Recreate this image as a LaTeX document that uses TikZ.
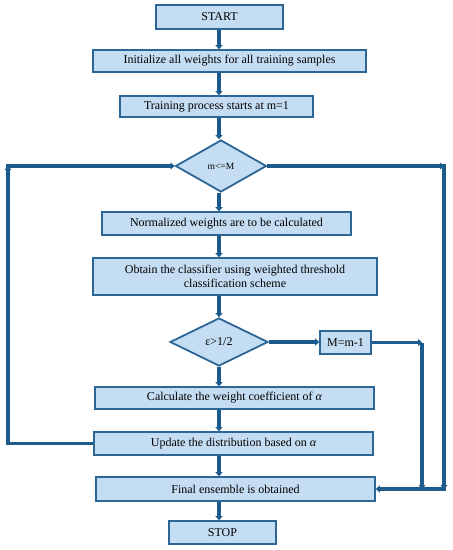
\documentclass[tikz,border=0pt]{standalone}
\usepackage{fontspec}
\setmainfont{Liberation Serif}
\usetikzlibrary{shapes.geometric, positioning, arrows.meta}

\definecolor{boxfill}{RGB}{197,221,242}
\definecolor{boxline}{RGB}{44,102,150}
\definecolor{flowline}{RGB}{28,92,140}

\tikzset{
  box/.style={draw=boxline, fill=boxfill, line width=1.6pt, inner sep=1pt,
    align=center, font=\fontsize{12}{14}\selectfont},
  decision/.style={diamond, draw=boxline, fill=boxfill, line width=1.8pt,
    inner sep=0pt},
  flow/.style={draw=flowline, line width=3.2pt, -{Triangle[width=7pt,length=4pt]}},
  plain/.style={draw=flowline, line width=3.2pt}
}

\begin{document}
\begin{tikzpicture}[x=1pt, y=1pt]
\useasboundingbox (0,0) rectangle (453,-550);

\coordinate (axis) at (219,0);

\node[box, minimum width=127pt, minimum height=24pt] (start) at (219.5,-17) {START};
\node[box, minimum width=273pt, minimum height=22pt] (init) at (229.5,-61) {Initialize all weights for all training samples};
\node[box, minimum width=193pt, minimum height=21pt] (train) at (216.5,-106.5) {Training process starts at m=1};
\node[decision, minimum width=91pt, minimum height=52pt, font=\fontsize{9.5}{11}\selectfont] (loop) at (221,-166) {m<=M};
\node[box, minimum width=249pt, minimum height=23pt] (norm) at (226.5,-223.5) {Normalized weights are to be calculated};
\node[box, minimum width=284pt, minimum height=37pt] (classify) at (235,-276.5) {Obtain the classifier using weighted threshold\\classification scheme};
\node[decision, minimum width=98pt, minimum height=48pt, font=\fontsize{12}{14}\selectfont] (err) at (219,-342) {ε>1/2};
\node[box, minimum width=51pt, minimum height=23pt] (dec) at (345.5,-342.5) {M=m-1};
\node[box, minimum width=279pt, minimum height=22pt] (coef) at (234.5,-398) {Calculate the weight coefficient of {\itshape α}};
\node[box, minimum width=279pt, minimum height=23pt] (upd) at (233.5,-443.5) {Update the distribution based on {\itshape α}};
\node[box, minimum width=279pt, minimum height=24pt] (final) at (235.5,-489) {Final ensemble is obtained};
\node[box, minimum width=107pt, minimum height=23pt] (stop) at (222.5,-532.5) {STOP};

% main flow
\draw[flow] (axis |- start.south) -- (axis |- init.north);
\draw[flow] (axis |- init.south) -- (axis |- train.north);
\draw[flow] (axis |- train.south) -- (axis |- loop.north);
\draw[flow] (axis |- loop.south) -- (axis |- norm.north);
\draw[flow] (axis |- norm.south) -- (axis |- classify.north);
\draw[flow] (axis |- classify.south) -- (axis |- err.north);
\draw[flow] (axis |- err.south) -- (axis |- coef.north);
\draw[flow] (axis |- coef.south) -- (axis |- upd.north);
\draw[flow] (axis |- upd.south) -- (axis |- final.north);
\draw[flow] (axis |- final.south) -- (axis |- stop.north);

% back to the loop test
\coordinate (lb) at (8,-443.5);
\coordinate (lt) at (8 ,-166);
\draw[flow] (upd.west) -- (lb) -- (lt) -- (loop.west);
\draw[flow] (lb) -- (lt);

% loop ends
\coordinate (rt) at (444,-166);
\coordinate (rb) at (rt |- final.east);
\draw[flow] (loop.east) -- (rt) -- (rb) -- (final.east);
\draw[flow] (loop.east) -- (rt);
\draw[flow] (rt) -- (rb);

% error too large
\draw[flow] (err.east) -- (dec.west |- err.east);
\coordinate (mt) at (422,-342.5);
\coordinate (mb) at (mt |- final.east);
\draw[flow] (dec.east) -- (mt);
\draw[flow] (mt) -- (mb);
\end{tikzpicture}
\end{document}
